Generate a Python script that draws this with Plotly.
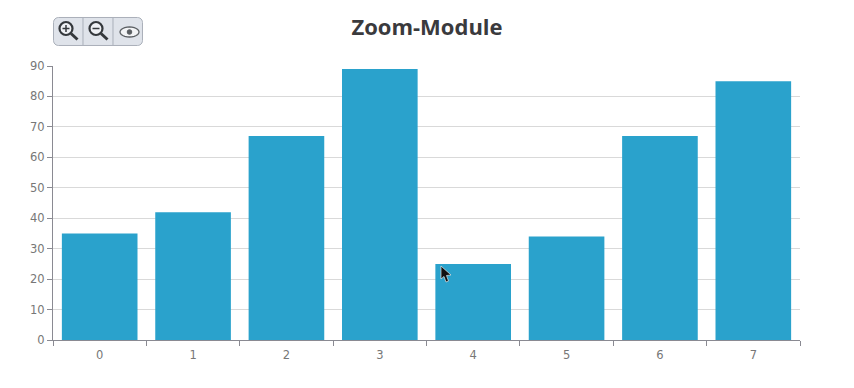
import math
import plotly.graph_objects as go

categories = ["0", "1", "2", "3", "4", "5", "6", "7"]
values = [35, 42, 67, 89, 25, 34, 67, 85]
y_ticks = [0, 10, 20, 30, 40, 50, 60, 70, 80, 90]

# The page adds an 8px body margin, so the figure is drawn 16px smaller and all pixel spots shift by 8.
OFF = 8
W, H = 854 - 2 * OFF, 388 - 2 * OFF
L, R, T, B = 53, 800, 66, 340


def px(x):
    return (x - L) / (R - L)


def py(y):
    return (B - y) / (B - T)


def path(points, close=False):
    s = "M" + " L".join(f"{px(x):.5f},{py(y):.5f}" for x, y in points)
    return s + (" Z" if close else "")


def rounded(x0, y0, x1, y1, r):
    pts = []
    for cx, cy, a0 in [(x1 - r, y0 + r, -90), (x1 - r, y1 - r, 0), (x0 + r, y1 - r, 90), (x0 + r, y0 + r, 180)]:
        for i in range(7):
            a = math.radians(a0 + i * 15)
            pts.append((cx + r * math.cos(a), cy + r * math.sin(a)))
    return path(pts, True)


def shape(d, fill="rgba(0,0,0,0)", line="rgba(0,0,0,0)", w=1):
    return dict(type="path", xref="paper", yref="paper", path=d, fillcolor=fill,
                line=dict(color=line, width=w), layer="above")


def circle(cx, cy, r, **k):
    return dict(type="circle", xref="paper", yref="paper", x0=px(cx - r), x1=px(cx + r),
                y0=py(cy + r), y1=py(cy - r), fillcolor=k.get("fill", "rgba(0,0,0,0)"),
                line=dict(color=k.get("line", "#333"), width=k.get("w", 2)), layer="above")


INK = "#34383c"
shapes = [shape(rounded(53.5, 17.5, 142.5, 45.5, 5), fill="#dfe3ea", line="#aab0ba")]
for sx in (83, 113):
    shapes.append(shape(path([(sx, 18), (sx, 45)]), line="#aab0ba"))
for cx in (66, 96):
    shapes.append(circle(cx, 28.5, 6.5, fill="#eef0f4", line=INK, w=2.2))
    shapes.append(shape(path([(cx + 5, 33.5), (cx + 11.5, 39.5)]), line=INK, w=3))
    shapes.append(shape(path([(cx - 3.5, 28.5), (cx + 3.5, 28.5)]), line=INK, w=1.5))
shapes.append(shape(path([(66, 25), (66, 32)]), line=INK, w=1.5))
eye = []
for i in range(13):
    a = math.radians(i * 15)
    eye.append((129.5 - 9.5 * math.cos(a), 32 - 5 * math.sin(a)))
for i in range(1, 12):
    a = math.radians(i * 15)
    eye.append((129.5 + 9.5 * math.cos(a), 32 + 5 * math.sin(a)))
shapes.append(shape(path(eye, True), fill="#f2f3f5", line="#5a5e62", w=1.3))
shapes.append(circle(129.5, 32, 2.3, fill="#5a5e62", line="#5a5e62", w=1))

cursor = [(441, 266), (441, 279), (444, 276.5), (446, 282), (448.5, 281), (446.5, 275.5), (451, 275)]
shapes.append(shape(path(cursor, True), fill="#111111", line="#e8e8e8", w=0.7))

fig = go.Figure(go.Bar(x=categories, y=values, marker=dict(color="#2aa2cc", line_width=0),
                       width=0.81))

fig.update_layout(
    width=W, height=H, autosize=False, showlegend=False,
    margin=dict(l=L - OFF, r=W + OFF - R, t=T - OFF, b=H + OFF - B, pad=0),
    paper_bgcolor="white", plot_bgcolor="white",
    font=dict(family="DejaVu Sans", size=11, color="#777777"),
    title=dict(text="<b>Zoom-Module</b>", x=(427 - OFF) / W, xanchor="center",
               y=1 - (27 - OFF) / H, yanchor="middle",
               font=dict(family="Open Sans", size=22, color="#3a3a3d")),
    shapes=shapes,
    xaxis=dict(type="category", categoryorder="array", categoryarray=categories,
               range=[-0.5, 7.5], tickson="boundaries", showgrid=False, ticks="outside",
               ticklen=5, tickcolor="#8a8a92", showline=True, linecolor="#8a8a92", linewidth=1,
               tickfont=dict(size=11.5, color="#777777"), zeroline=False, ticklabelstandoff=4),
    yaxis=dict(range=[0, 90], tickvals=y_ticks, showgrid=True, gridcolor="#d9d9d9", gridwidth=1,
               ticks="outside", ticklen=5, tickcolor="#8a8a92", showline=True,
               linecolor="#8a8a92", linewidth=1, tickfont=dict(size=11.5, color="#777777"),
               zeroline=False),
)

fig.write_html("out.html", config=dict(displayModeBar=False))
